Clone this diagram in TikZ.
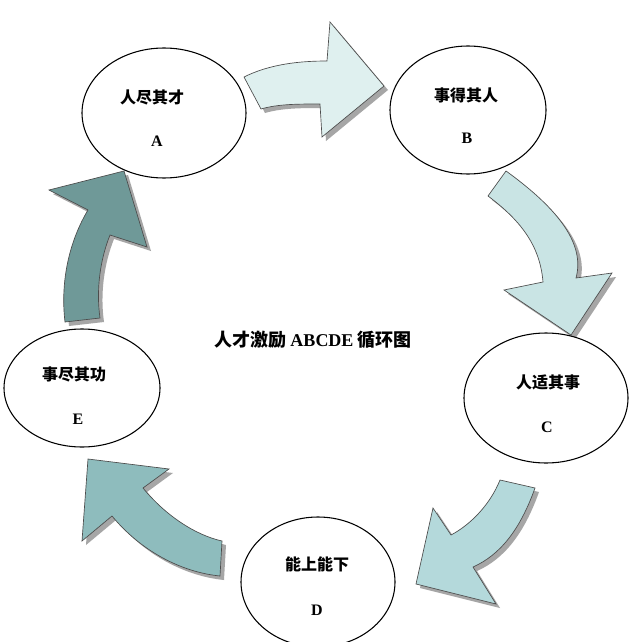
\documentclass[tikz,border=0pt]{standalone}
\usetikzlibrary{shapes.geometric}
\usepackage{fontspec}
\newfontfamily\cjk{Noto Sans CJK SC}
\setmainfont{Liberation Serif}
\definecolor{cab}{HTML}{DFF0EF}
\definecolor{cbc}{HTML}{C9E4E4}
\definecolor{ccd}{HTML}{B4D9DB}
\definecolor{cde}{HTML}{8EBCBD}
\definecolor{cea}{HTML}{6F9998}
\begin{document}
\begin{tikzpicture}[x=0.75pt,y=-0.75pt,
  ell/.style={draw=black,line width=0.8pt,ellipse,fill=white,inner sep=0pt},
  arr/.style={draw=black!70,line width=0.5pt},
  lbl/.style={font=\cjk\bfseries\fontsize{12}{14}\selectfont},
  let/.style={font=\bfseries\fontsize{12}{14}\selectfont}]
\useasboundingbox (0,0) rectangle (640,642);
\fill[white] (0,0) rectangle (640,642);
\def\ab{(244,77) .. controls (270,64) and (300,61) .. (327,61) -- (330,22) -- (384,86) -- (322,137) -- (320,104) .. controls (298,104) and (278,104) .. (261,109) -- cycle}
\def\bc{(506,171) .. controls (560,210) and (585,245) .. (576,278) -- (612,273) -- (571,335) -- (504,290) -- (543,282) .. controls (540,245) and (520,220) .. (488,196) -- cycle}
\def\cd{(500,480) -- (535,488) .. controls (520,530) and (500,555) .. (473,567) -- (496,604) -- (416,584) -- (433,508) -- (451,535) .. controls (470,525) and (490,505) .. (500,480) -- cycle}
\def\de{(222,541) .. controls (195,535) and (165,515) .. (143,488) -- (169,469) -- (88,459) -- (82,541) -- (112,516) .. controls (140,550) and (180,572) .. (220,576) -- cycle}
\def\ea{(65,322) .. controls (60,280) and (70,240) .. (88,210) -- (49,190) -- (124,171) -- (147,247) -- (110,235) .. controls (100,260) and (96,290) .. (100,318) -- cycle}
\foreach \p in {\ab,\bc,\cd,\de,\ea}{\fill[black!35,shift={(4,4)}] \p;}
\filldraw[arr,fill=cab] \ab;
\filldraw[arr,fill=cbc] \bc;
\filldraw[arr,fill=ccd] \cd;
\filldraw[arr,fill=cde] \de;
\filldraw[arr,fill=cea] \ea;
\node[ell,minimum width=123pt,minimum height=97.5pt] (A) at (164,113) {};
\node[ell,minimum width=117pt,minimum height=96pt] (B) at (468,110) {};
\node[ell,minimum width=123pt,minimum height=97.5pt] (C) at (546,398) {};
\node[ell,minimum width=115.5pt,minimum height=97.5pt] (D) at (318,582) {};
\node[ell,minimum width=117pt,minimum height=88.5pt] (E) at (82,388) {};
\node[lbl] (a1) at (152,97) {人尽其才}; \node[let] (a2) at (157,141) {A};
\node[lbl] (b1) at (466,95) {事得其人}; \node[let] (b2) at (467,138) {B};
\node[lbl] (c1) at (548,382) {人适其事}; \node[let] (c2) at (547,427) {C};
\node[lbl] (d1) at (317,564) {能上能下}; \node[let] (d2) at (317,610) {D};
\node[lbl] (e1) at (74,374) {事尽其功}; \node[let] (e2) at (78,419) {E};
\node[font=\cjk\bfseries\fontsize{13.5}{15}\selectfont] (t) at (313,340) {人才激励 {\rmfamily\bfseries ABCDE} 循环图};
\end{tikzpicture}
\end{document}
